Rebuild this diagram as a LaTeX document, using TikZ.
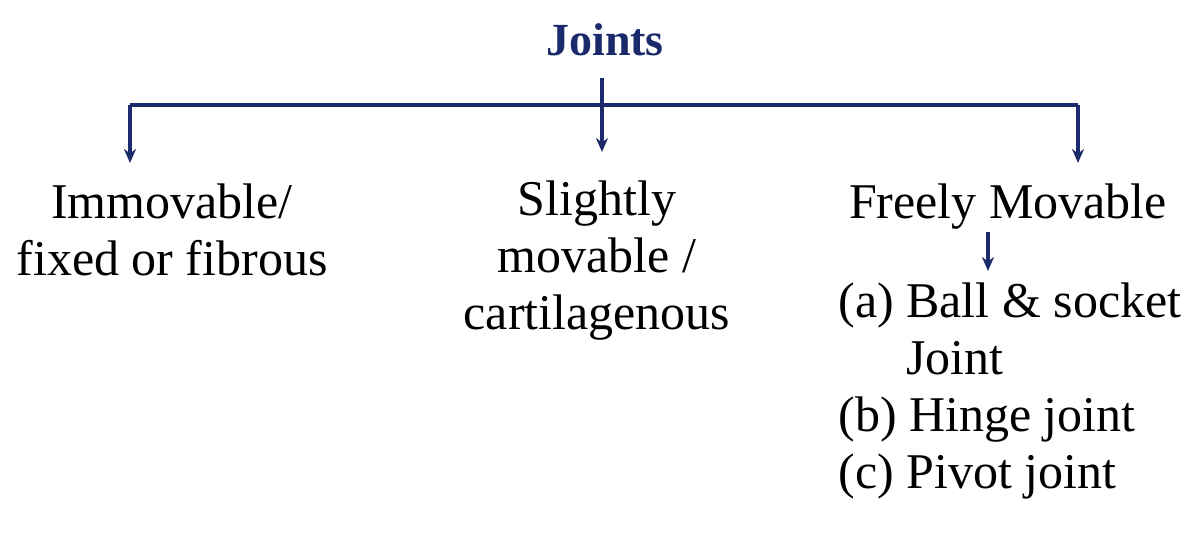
\documentclass[tikz,border=0pt]{standalone}
\usepackage{fontspec}
\setmainfont{Liberation Serif}
\usetikzlibrary{arrows.meta}
\definecolor{navy}{HTML}{1B2A6B}
\begin{document}
\begin{tikzpicture}[x=0.5pt,y=-0.5pt,
  ln/.style={navy,line width=1.6pt},
  ar/.style={ln,-{Stealth[length=7pt,width=6pt]}},
  lab/.style={font=\fontsize{25}{28.5}\selectfont,align=center,inner sep=0pt,anchor=north}]
\useasboundingbox (0,0) rectangle (1200,533);
\node[font=\fontsize{23}{26}\selectfont\bfseries,text=navy,inner sep=0pt] (root) at (605,40) {Joints};
\coordinate (top) at (602,78);
\coordinate (jn) at (602,105);
\coordinate (jl) at (130,105);
\coordinate (jr) at (1078,105);
\node[lab] (a) at (172,183) {Immovable/\\fixed or fibrous};
\node[lab] (b) at (597,180) {Slightly\\movable /\\cartilagenous};
\node[lab] (c) at (1008,183) {Freely Movable};
\node[lab,align=left,anchor=north west] (d) at (838,282) {(a) Ball \& socket\\\phantom{(a) }Joint\\(b) Hinge joint\\(c) Pivot joint};
\draw[ln] (jl) -- (jr);
\draw[ar] (top) -- (602,152);
\draw[ar] (jl) -- (130,163);
\draw[ar] (jr) -- (1078,163);
\draw[ar] (988,232) -- (988,271);
\end{tikzpicture}
\end{document}
